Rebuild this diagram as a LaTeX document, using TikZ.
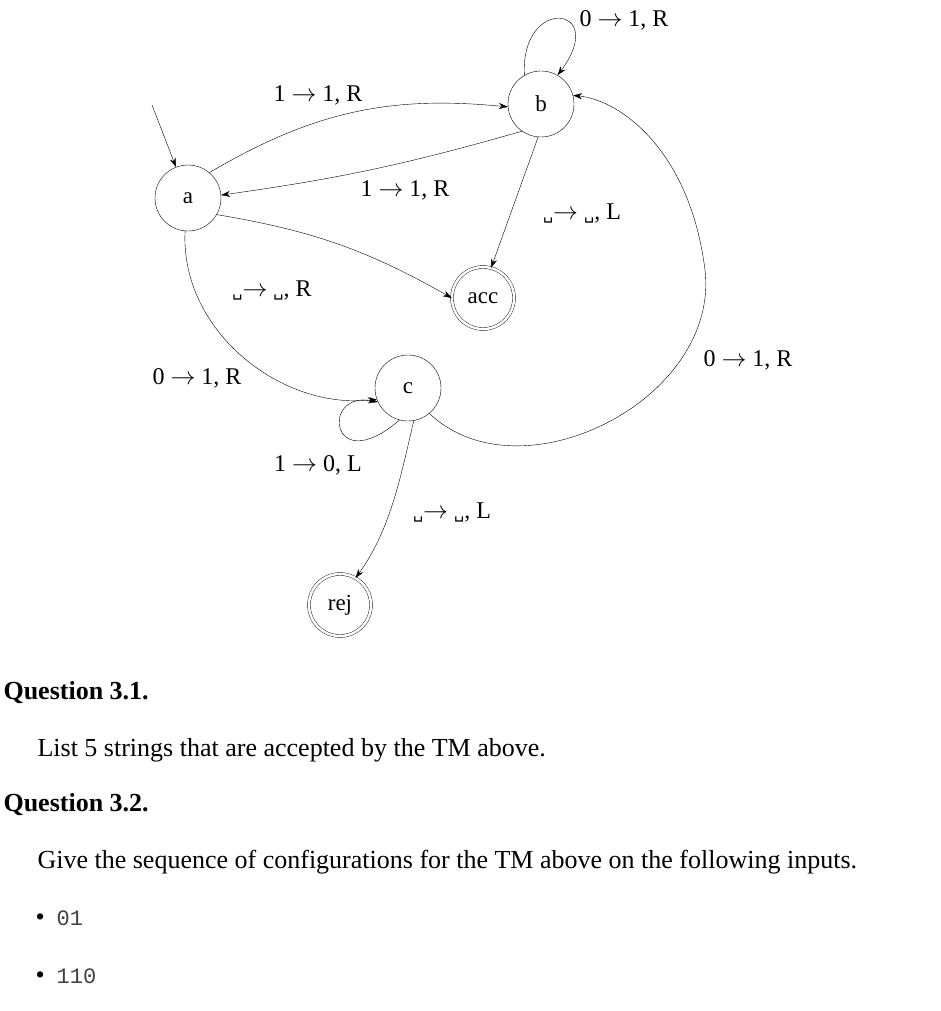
\documentclass[tikz,border=0pt]{standalone}
\usepackage{fontspec}
\setmainfont{Liberation Serif}
\setmonofont{Liberation Mono}
\newfontfamily\djv{DejaVu Sans}
\newcommand{\bl}{{\djv\fontsize{16}{18}\selectfont ␣}}
\usetikzlibrary{arrows.meta}
\begin{document}
\begin{tikzpicture}[x=1pt,y=-1pt,
  st/.style={circle,draw,minimum size=66pt,inner sep=0pt,font=\fontsize{23}{26}\selectfont},
  fin/.style={st,double,double distance=2.5pt,minimum size=62pt},
  lb/.style={font=\fontsize{24}{28}\selectfont},
  tr/.style={-{Stealth[length=9pt,width=6pt]},thin},
  qt/.style={anchor=west,font=\fontsize{26}{30}\selectfont}]
\useasboundingbox (0,0) rectangle (941,1011);
\node[st] (a) at (188,198) {a};
\node[st] (b) at (541,104) {b};
\node[fin] (acc) at (483,298) {acc};
\node[st] (c) at (408,388) {c};
\node[fin] (rej) at (340,605) {rej};
\coordinate (init) at (152,105);
\draw[tr] (init) -- (a);
\draw[tr] (a.50) to[bend left=18] (b.185);
\node[lb] at (318,95) {1 $\rightarrow$ 1, R};
\draw[tr] (b.235) to[bend left=4] (a.5);
\node[lb] at (405,190) {1 $\rightarrow$ 1, R};
\draw[tr] (b.120) .. controls (520,-5) and (610,5) .. (b.60);
\node[lb] at (624,20) {0 $\rightarrow$ 1, R};
\draw[tr] (b.265) -- (acc.75);
\node[lb] at (582,213) {\bl$\rightarrow$ \bl, L};
\draw[tr] (a.330) to[bend left=10] (acc.180);
\node[lb] at (272,290) {\bl$\rightarrow$ \bl, R};
\draw[tr] (a.265) .. controls (180,330) and (280,410) .. (c.200);
\node[lb] at (197,378) {0 $\rightarrow$ 1, R};
\draw[tr] (c.310) .. controls (520,500) and (720,400) .. (705,270) .. controls (690,150) and (620,100) .. (b.15);
\node[lb] at (748,360) {0 $\rightarrow$ 1, R};
\draw[tr] (c.255) .. controls (330,480) and (320,390) .. (c.205);
\node[lb] at (318,465) {1 $\rightarrow$ 0, L};
\draw[tr] (c.280) .. controls (400,480) and (390,530) .. (rej.60);
\node[lb] at (452,512) {\bl$\rightarrow$ \bl, L};
\node[qt,font=\fontsize{26}{30}\selectfont\bfseries] (q1) at (0,693) {Question 3.1.};
\node[qt] (t1) at (34,750) {List 5 strings that are accepted by the TM above.};
\node[qt,font=\fontsize{26}{30}\selectfont\bfseries] (q2) at (0,805) {Question 3.2.};
\node[qt] (t2) at (34,862) {Give the sequence of configurations for the TM above on the following inputs.};
\node[qt] (b1) at (32,918) {\textbullet\hspace{12pt}\texttt{\fontsize{22}{26}\selectfont\color{black!75}01}};
\node[qt] (b2) at (32,976) {\textbullet\hspace{12pt}\texttt{\fontsize{22}{26}\selectfont\color{black!75}110}};
\end{tikzpicture}
\end{document}
